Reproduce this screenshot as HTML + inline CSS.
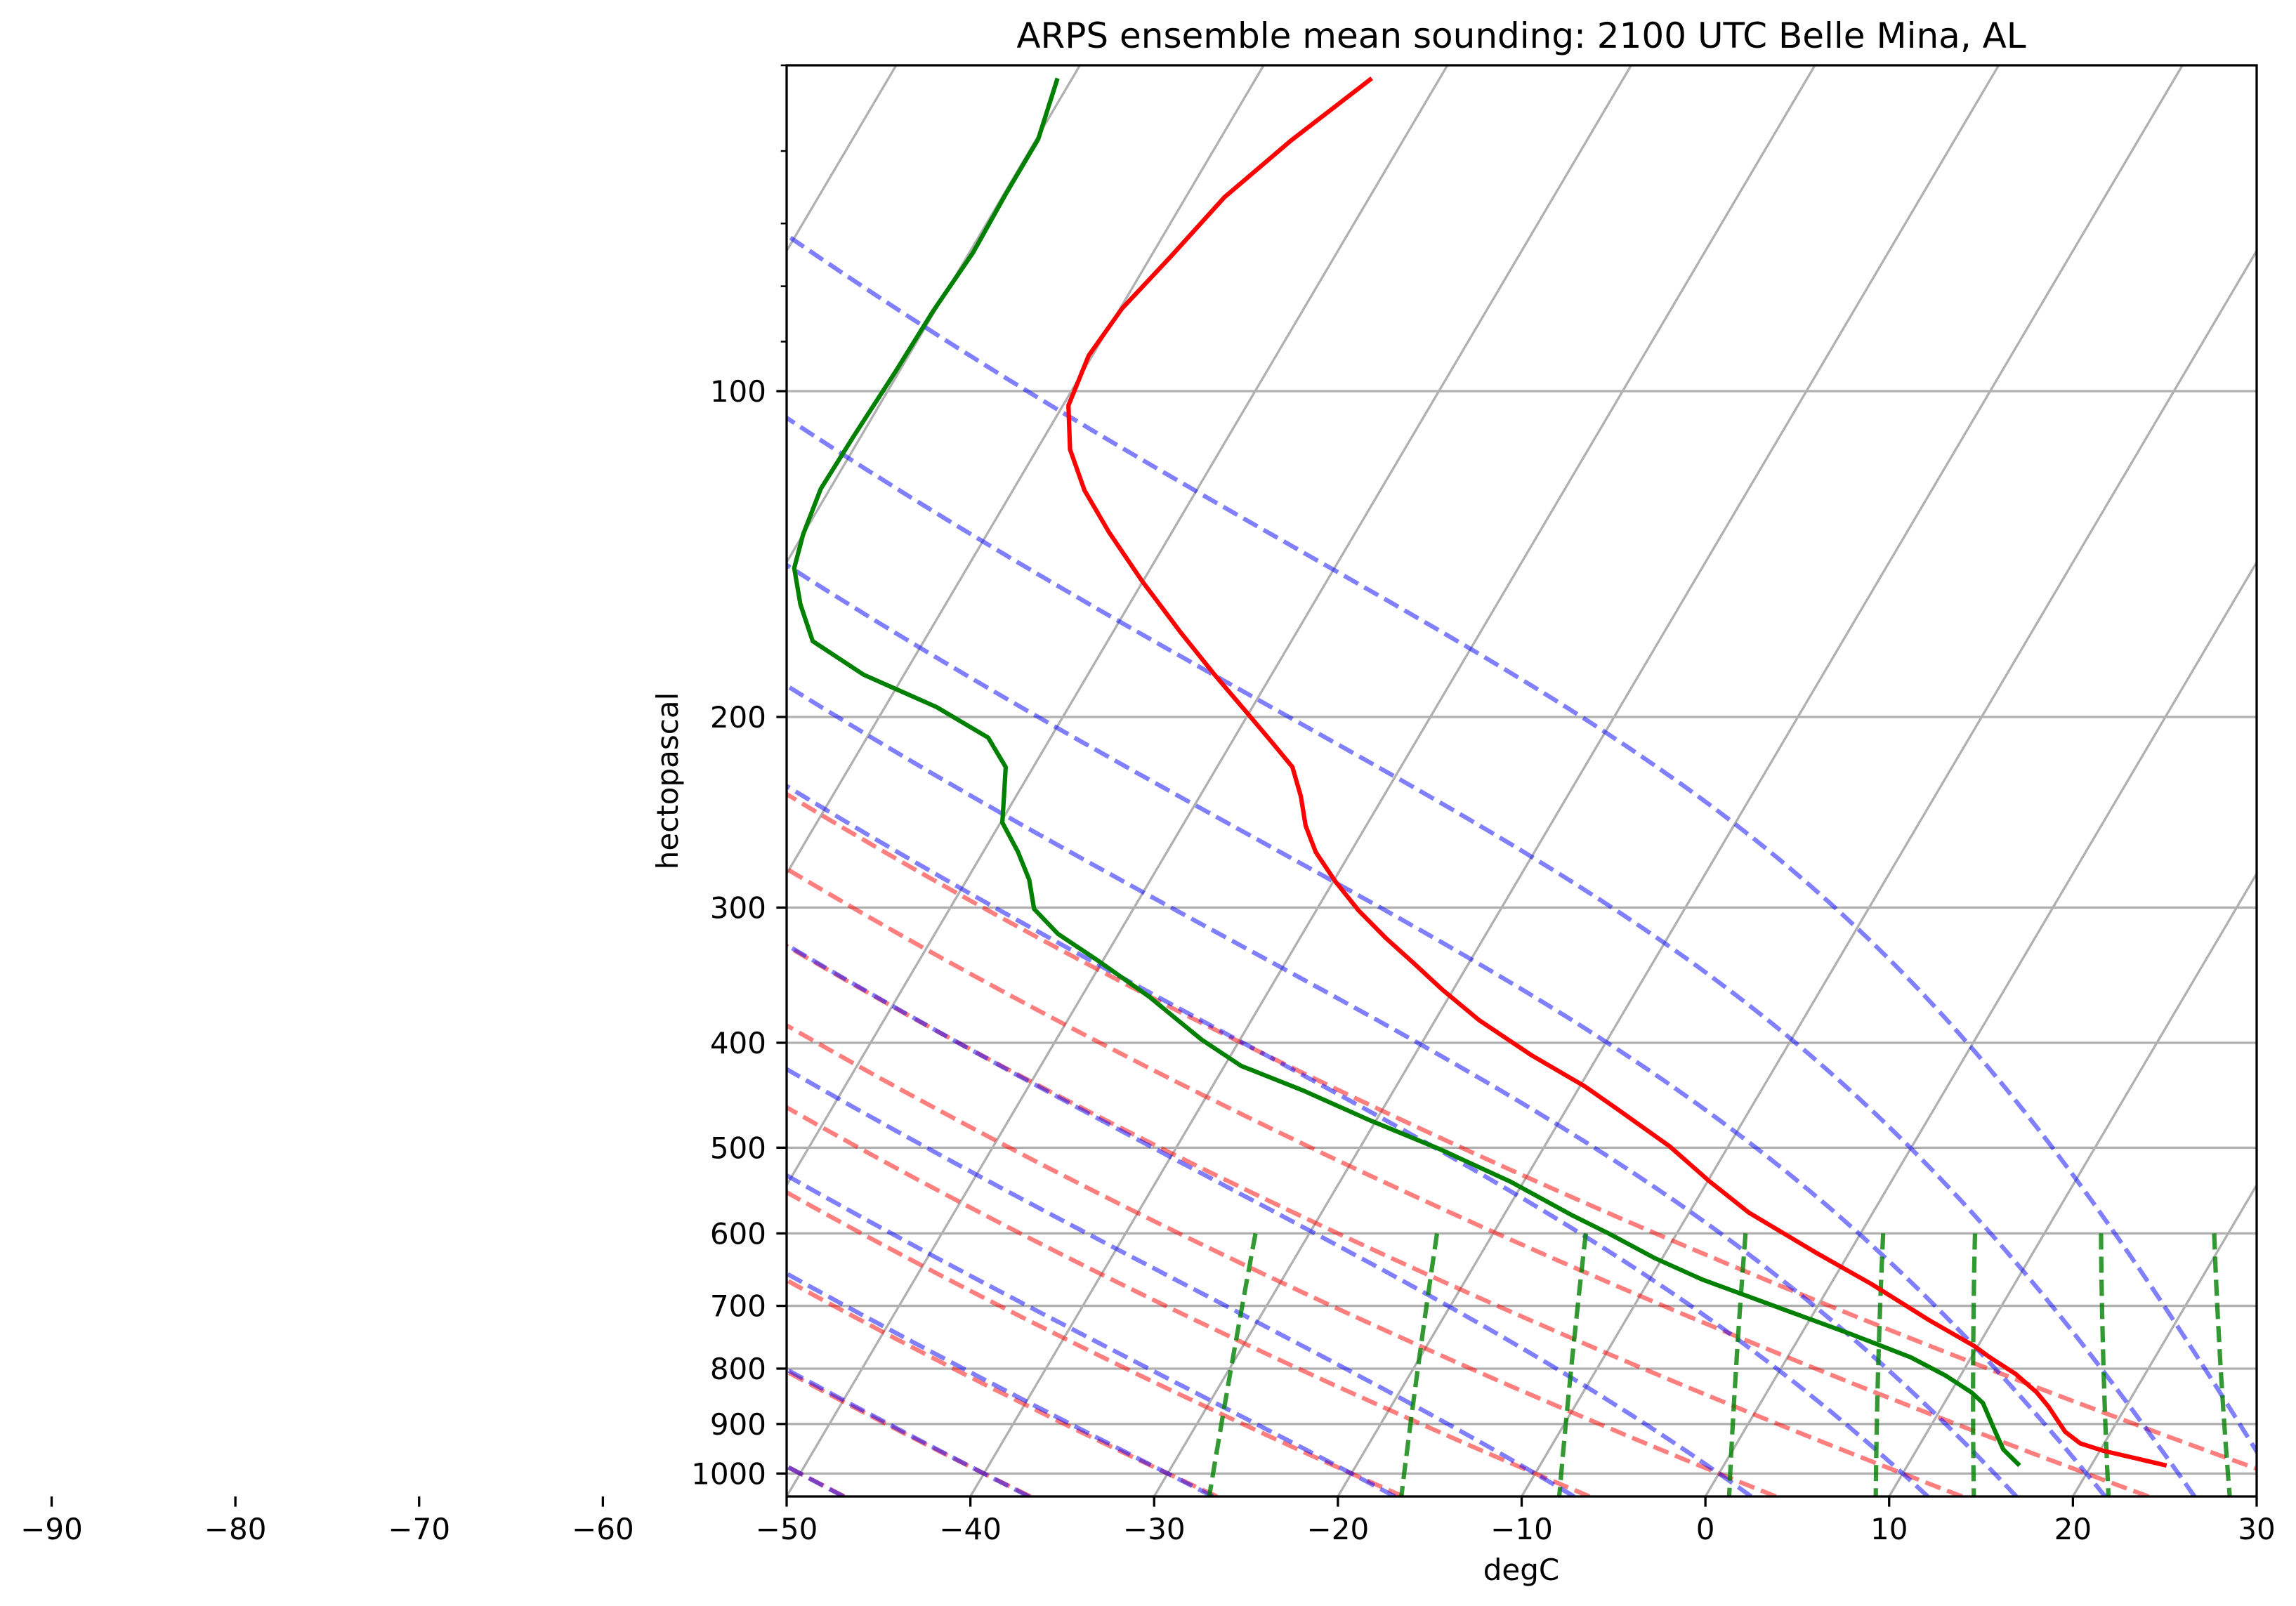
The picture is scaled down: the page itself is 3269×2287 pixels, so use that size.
<!DOCTYPE html>
<html><head><meta charset="utf-8"><title>ARPS ensemble mean sounding</title>
<style>
html,body{margin:0;padding:0;background:#fff;}
svg{display:block;font-family:"DejaVu Sans","Liberation Sans",sans-serif;}
</style></head>
<body>
<svg id="chart" xmlns="http://www.w3.org/2000/svg" width="3269" height="2287" viewBox="0 0 3269 2287">
<defs><clipPath id="plotclip"><rect x="1120" y="93" width="2093" height="2038"/></clipPath></defs>
<rect x="0" y="0" width="3269" height="2287" fill="#fff"/>
<g id="grid" clip-path="url(#plotclip)"></g>
<g id="adiab" clip-path="url(#plotclip)"></g>
<g id="sound" clip-path="url(#plotclip)"></g>
<g id="axes"></g>
<text x="2166" y="68" font-size="50" text-anchor="middle">ARPS ensemble mean sounding: 2100 UTC Belle Mina, AL</text>
<text x="2166" y="2250" font-size="42" text-anchor="middle">degC</text>
<text x="0" y="0" font-size="42" text-anchor="middle" transform="translate(965,1112) rotate(-90)">hectopascal</text>
</svg>
<script>
// ---- sounding data (pressure hPa, temperature degC) ----
const tempP = [51.4,58.7,66.2,75.0,83.9,92.7,103.1,113.2,123.5,135.1,149.8,167.1,182.8,198.3,211.7,222.5,236.8,252,266.6,283.7,301.8,320.3,337.7,357.2,381.3,411.0,438.7,460.9,498.7,536.7,574.1,624,667.5,721.5,762.5,780.9,809.5,841.7,867.8,915,938,952.9,983];
const tempT = [-63.7,-66.1,-67.9,-68.9,-69.9,-70.2,-69.7,-68.2,-66.1,-63.4,-60.05,-56.3,-53.1,-50.1,-47.7,-45.9,-44.5,-43.3,-41.9,-39.9,-37.7,-35.3,-33.0,-30.6,-27.6,-23.6,-19.75,-17.2,-13.18,-9.93,-6.74,-1.92,2.15,6.5,9.8,11.0,12.97,14.7,15.8,17.5,18.7,20.2,24.1];
const dewP = [51.4,58.5,65.8,74.5,84.4,95.9,110,123.1,135.6,145.7,157.4,170.2,182.8,195.8,209,222.5,236,250.4,266.6,282.8,300.9,317.3,335.6,362.8,397.2,420.1,442.9,471.3,501.6,537.6,576.7,600.2,632.5,661.7,682.8,705.6,741.2,780.9,812,841.7,860.7,915,950,983];
const dewT = [-80.8,-79.9,-79.9,-79.8,-80.1,-80.2,-80.4,-80.5,-80,-79.4,-77.9,-76.05,-72.2,-67.2,-63.4,-61.5,-60.7,-59.9,-58.1,-56.6,-55.4,-53.3,-50.3,-46.3,-42.1,-39.1,-34.9,-30.4,-25.6,-20.7,-16.35,-13.7,-10.4,-7.16,-4.5,-1.72,2.47,6.7,9.19,11.15,12.1,13.7,14.7,16.1];
// ---- reference line parameters and ticks ----
const dryT0 = [-50,-40,-30,-20,-10,0,10,20,30];
const moistT0 = [-50,-40,-30,-20,-10,0,10,15,20,25,30];
const mixW = [0.0004,0.001,0.002,0.004,0.007,0.01,0.016,0.024,0.032];
const xTicks = [-90,-80,-70,-60,-50,-40,-30,-20,-10,0,10,20,30];
const yTicks = [100,200,300,400,500,600,700,800,900,1000];
const yMinor = [50,60,70,80,90];

const NS='http://www.w3.org/2000/svg';
const L=1120,R=3213,T=93,B=2131, PBOT=1050, PTOP=50;
const DPX=(R-L)/80, SKEW=0.59;
function yOf(p){return B-(Math.log10(PBOT/p))/(Math.log10(PBOT/PTOP))*(B-T);}
function xOf(t,p){return L+(t+50)*DPX+(B-yOf(p))*SKEW;}
function mk(tag,attrs,parent){const e=document.createElementNS(NS,tag);for(const k in attrs)e.setAttribute(k,attrs[k]);parent.appendChild(e);return e;}
function pathD(ps,ts){let d='';for(let i=0;i<ps.length;i++){d+=(i?'L':'M')+xOf(ts[i],ps[i]).toFixed(1)+','+yOf(ps[i]).toFixed(1);}return d;}
const grid=document.getElementById('grid'),adiab=document.getElementById('adiab'),sound=document.getElementById('sound'),axes=document.getElementById('axes');

yTicks.forEach(p=>{const e=mk('line',{x1:L,x2:R,y1:yOf(p),y2:yOf(p),stroke:'#b0b0b0','stroke-width':3.3},grid);

});
for(let t=-160;t<=30;t+=10){const e=mk('line',{x1:xOf(t,PBOT),y1:B,x2:xOf(t,PTOP),y2:T,stroke:'#b0b0b0','stroke-width':3.3},grid);

}

const levs=[];for(let i=0;i<=200;i++){levs.push(PBOT*Math.pow(PTOP/PBOT,i/200));}
dryT0.forEach(t0=>{const th=t0+273.15;const ts=levs.map(p=>th*Math.pow(p/1000,0.2857)-273.15);
const e=mk('path',{d:pathD(levs,ts),fill:'none',stroke:'rgba(255,0,0,0.5)','stroke-width':6.25,'stroke-dasharray':'23 10'},adiab);

});
function es(tc){return 6.112*Math.exp(17.67*tc/(tc+243.5));}
function dTdp(p,tk){const e=es(tk-273.15);const rs=0.622*e/(p-e);const Rd=287.04,Cp=1005.7,Lv=2.501e6;
return (1/p)*(Rd*tk+Lv*rs)/(Cp+(Lv*Lv*rs*0.622/(Rd*tk*tk)));}
function integ(t0k,p0,p1,n){const out=[];let p=p0,t=t0k;const f=Math.pow(p1/p0,1/n);out.push([p,t]);
for(let i=0;i<n;i++){const pn=p*f;const h=pn-p;const k1=dTdp(p,t),k2=dTdp(p+h/2,t+h/2*k1),k3=dTdp(p+h/2,t+h/2*k2),k4=dTdp(pn,t+h*k3);
t+=h/6*(k1+2*k2+2*k3+k4);p=pn;out.push([p,t]);}return out;}
moistT0.forEach(t0=>{const up=integ(t0+273.15,1000,PTOP,300);const dn=integ(t0+273.15,1000,PBOT,10);
const pts=dn.reverse().concat(up.slice(1));const ps=pts.map(a=>a[0]),ts=pts.map(a=>a[1]-273.15);
const e=mk('path',{d:pathD(ps,ts),fill:'none',stroke:'rgba(0,0,255,0.5)','stroke-width':6.25,'stroke-dasharray':'23 10'},adiab);

});
mixW.forEach(w=>{const ps=[],ts=[];for(let i=0;i<=20;i++){const p=600+(PBOT-600)*i/20;const e=p*w/(0.622+w);const l=Math.log(e/6.112);ps.push(p);ts.push(243.5*l/(17.67-l));}
const e=mk('path',{d:pathD(ps,ts),fill:'none',stroke:'rgba(0,128,0,0.8)','stroke-width':6.25,'stroke-dasharray':'23 10'},adiab);

});

const tl=mk('path',{d:pathD(tempP,tempT),fill:'none',stroke:'#ff0000','stroke-width':6.25,'stroke-linejoin':'round'},sound);


const dl=mk('path',{d:pathD(dewP,dewT),fill:'none',stroke:'#008000','stroke-width':6.25,'stroke-linejoin':'round'},sound);



const sp=mk('rect',{x:L,y:T,width:R-L,height:B-T,fill:'none',stroke:'#000','stroke-width':3.3},axes);


xTicks.forEach(t=>{const x=L+(t+50)*DPX;
const tk=mk('line',{x1:x,x2:x,y1:B,y2:B+14.6,stroke:'#000','stroke-width':3.3},axes);


const tx=mk('text',{x:x,y:2192,'font-size':42,'text-anchor':'middle'},axes);
tx.textContent=(t<0?'\u2212':'')+Math.abs(t);

});
yTicks.forEach(p=>{const y=yOf(p);
const tk=mk('line',{x1:L-14.6,x2:L,y1:y,y2:y,stroke:'#000','stroke-width':3.3},axes);


const tx=mk('text',{x:1091,y:y+15,'font-size':42,'text-anchor':'end'},axes);
tx.textContent=String(p);

});
yMinor.forEach(p=>{const y=yOf(p);
const tk=mk('line',{x1:L-8.3,x2:L,y1:y,y2:y,stroke:'#000','stroke-width':2.5},axes);

});
</script>
</body></html>
